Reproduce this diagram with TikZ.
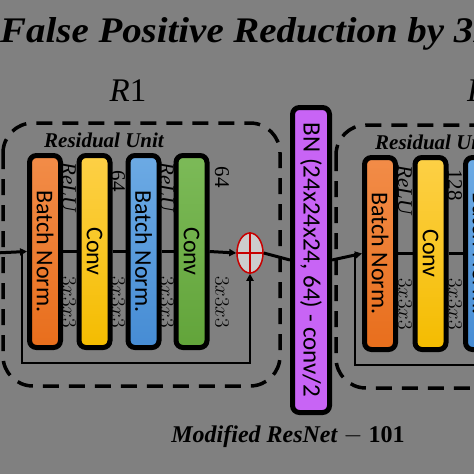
\documentclass[tikz,border=0pt]{standalone}
\usepackage{fontspec}
\setmainfont{Liberation Serif}
\newfontfamily\carlito{Carlito}
\usetikzlibrary{arrows.meta,shapes.geometric}
\definecolor{bggray}{RGB}{128,128,128}
\definecolor{orgtop}{RGB}{242,140,72}
\definecolor{orgbot}{RGB}{232,110,28}
\definecolor{ylwtop}{RGB}{253,208,70}
\definecolor{ylwbot}{RGB}{244,188,0}
\definecolor{blutop}{RGB}{108,170,228}
\definecolor{blubot}{RGB}{70,140,212}
\definecolor{grntop}{RGB}{124,186,88}
\definecolor{grnbot}{RGB}{98,164,58}
\definecolor{bnpurple}{RGB}{200,100,245}
\definecolor{addred}{RGB}{200,0,0}
\newcommand\vtxt[1]{\rotatebox{-90}{#1}}
\tikzset{
	bar/.style 2 args={draw=black,line width=5pt,rounded corners=7pt,minimum width=31pt,minimum height=192pt,inner sep=0pt,top color=#1,bottom color=#2,font=\carlito\fontsize{24}{24}\selectfont},
	gaplbl/.style={inner sep=0pt,font=\fontsize{21}{21}\selectfont},
	unitlbl/.style={inner sep=0pt,font=\bfseries\itshape\fontsize{21}{21}\selectfont},
	rlbl/.style={inner sep=0pt,font=\fontsize{33}{33}\selectfont},
	mainln/.style={line width=3pt},
	skipln/.style={line width=2pt},
	rbox/.style={line width=3.5pt,dash pattern=on 16pt off 10pt,rounded corners=30pt}
}
\begin{document}
\begin{tikzpicture}[x=1pt,y=-1pt,>={Triangle[length=7pt,width=7pt]}]
	\clip (0,0) rectangle (474,474);
	\fill[bggray] (0,0) rectangle (474,474);

	\node[anchor=base west,inner sep=0pt,font=\bfseries\itshape\fontsize{36}{36}\selectfont,xscale=1.08] (title) at (0,42) {False Positive Reduction by 3D};
	\node[rlbl,anchor=base] (r1) at (128,101) {{\itshape R}1};
	\node[rlbl,anchor=base west] (r2) at (467,101) {{\itshape R}2};

	\draw[rbox] (3,123) rectangle (280,386);
	\draw[rbox] (336,125) rectangle (520,388);
	\node[unitlbl] (ru1) at (104,140) {Residual Unit};
	\node[unitlbl,anchor=west] (ru2) at (375,142) {Residual Unit};

	\node[gaplbl] (g1a) at (69,187) {\vtxt{\itshape ReLU}};
	\node[gaplbl] (g1b) at (69,302) {\vtxt{$3x3x3$}};
	\node[gaplbl] (g2a) at (118,181) {\vtxt{64}};
	\node[gaplbl] (g2b) at (118,302) {\vtxt{$3x3x3$}};
	\node[gaplbl] (g3a) at (167,187) {\vtxt{\itshape ReLU}};
	\node[gaplbl] (g3b) at (167,302) {\vtxt{$3x3x3$}};
	\node[gaplbl] (g4a) at (222,177) {\vtxt{64}};
	\node[gaplbl] (g4b) at (222,302) {\vtxt{$3x3x3$}};
	\node[gaplbl] (g5a) at (405,190) {\vtxt{\itshape ReLU}};
	\node[gaplbl] (g5b) at (405,304) {\vtxt{$3x3x3$}};
	\node[gaplbl] (g6a) at (455,185) {\vtxt{128}};
	\node[gaplbl] (g6b) at (455,304) {\vtxt{$3x3x3$}};

	\node[bar={orgtop}{orgbot}] (bn1) at (45,251.5) {\vtxt{Batch Norm.}};
	\node[bar={ylwtop}{ylwbot}] (cv1) at (94.5,251.5) {\vtxt{Conv}};
	\node[bar={blutop}{blubot}] (bn2) at (143.5,251.5) {\vtxt{Batch Norm.}};
	\node[bar={grntop}{grnbot}] (cv2) at (191.5,251.5) {\vtxt{Conv}};
	\node[bar={orgtop}{orgbot}] (bn3) at (380,253.5) {\vtxt{Batch Norm.}};
	\node[bar={ylwtop}{ylwbot}] (cv3) at (430.5,253.5) {\vtxt{Conv}};
	\node[bar={blutop}{blubot}] (bn4) at (481,253.5) {\vtxt{Batch Norm.}};

	\node[ellipse,draw=addred,line width=1.5pt,fill=black!20,minimum width=26pt,minimum height=40pt,inner sep=0pt] (add1) at (250,253) {};
	\draw[addred,line width=1.5pt] (add1.north) -- (add1.south);
	\draw[addred,line width=1.5pt] (add1.west) -- (add1.east);

	\node[draw=black,line width=5pt,rounded corners=7pt,fill=bnpurple,minimum width=37pt,minimum height=305pt,inner sep=0pt,font=\carlito\fontsize{25}{25}\selectfont] (bnp) at (311,260) {\vtxt{BN (24x24x24, 64) - conv/2}};

	\coordinate (in) at (-5,253);
	\coordinate (s1) at (22,253);
	\coordinate (k1) at (22,363);
	\coordinate (s2) at (355,253);
	\coordinate (k2) at (355,365);
	\coordinate (k2e) at (480,365);

	\draw[mainln,->] (in) -- (bn1.west);
	\draw[mainln] (bn1.east) -- (cv1.west);
	\draw[mainln] (cv1.east) -- (bn2.west);
	\draw[mainln] (bn2.east) -- (cv2.west);
	\draw[mainln,->] (cv2.east) -- (add1.west);
	\draw[mainln] (add1.east) -- (bnp.west);
	\draw[skipln,->] (s1) -- (k1) -| (add1.south);
	\draw[mainln,->] (bnp.east) -- (bn3.west);
	\draw[mainln] (bn3.east) -- (cv3.west);
	\draw[mainln] (cv3.east) -- (bn4.west);
	\draw[skipln] (s2) -- (k2) -- (k2e);

	\node[anchor=base,inner sep=0pt,font=\bfseries\itshape\fontsize{24}{24}\selectfont] (netname) at (288,442) {Modified ResNet $-$ {\upshape 101}};
\end{tikzpicture}
\end{document}
